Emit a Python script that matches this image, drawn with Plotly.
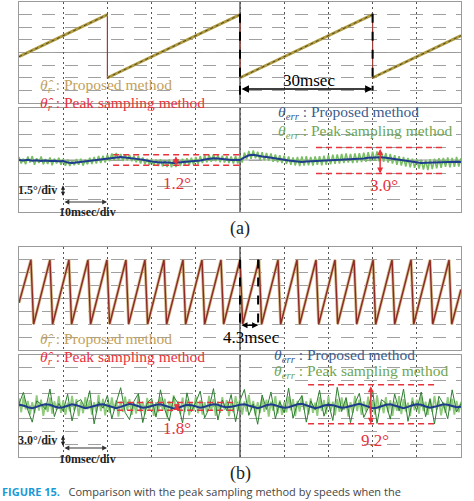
import plotly.graph_objects as go

W, H = 474, 501
SERIF = "Liberation Serif, Times New Roman, serif"

# ---------------- data ----------------
# (a) rotor angle sawtooth, vertices (ms, deg)
saw_a_t = [0, 20, 20, 50, 50, 80, 80, 100]
saw_a_deg = [120, 360, 0, 360, 0, 360, 0, 240]

# (b) rotor angle sawtooth, vertices (ms, deg), period 4.3 ms
saw_b_t = [0, 2.7, 3.3, 7.0, 7.6, 11.3, 11.9, 15.6, 16.2, 19.9, 20.5, 24.2, 24.8,
           28.5, 29.1, 32.8, 33.4, 37.1, 37.7, 41.4, 42.0, 45.7, 46.3, 50.0, 50.6,
           54.3, 54.9, 58.6, 59.2, 62.9, 63.5, 67.2, 67.8, 71.5, 72.1, 75.8, 76.4,
           80.1, 80.7, 84.4, 85.0, 88.7, 89.3, 93.0, 93.6, 97.3, 97.9, 100]
saw_b_deg = [120, 360, 0, 360, 0, 360, 0, 360, 0, 360, 0, 360, 0,
             360, 0, 360, 0, 360, 0, 360, 0, 360, 0, 360, 0,
             360, 0, 360, 0, 360, 0, 360, 0, 360, 0, 360, 0,
             360, 0, 360, 0, 360, 0, 360, 0, 360, 0, 195]

t_1ms = list(range(0, 101))
t_half = [i * 0.5 for i in range(201)]

# (a) position error, proposed (blue), deg
err_a_blue = [0.00, -0.05, 0.02, -0.08, -0.03, -0.10, -0.06, -0.12, -0.08, -0.15, -0.12,
              -0.30, -0.35, -0.28, -0.22, -0.18, -0.12, -0.05, 0.00, 0.06, 0.12,
              0.22, 0.30, 0.35, 0.28, 0.24, 0.20, 0.10, 0.02, -0.10, -0.18,
              -0.22, -0.28, -0.25, -0.32, -0.35, -0.30, -0.26, -0.20, -0.14, -0.08,
              -0.05, 0.05, 0.12, 0.20, 0.16, 0.10, 0.05, 0.00, 0.04, 0.00,
              0.30, 0.55, 0.60, 0.48, 0.40, 0.34, 0.28, 0.20, 0.12, 0.04,
              -0.05, -0.12, -0.20, -0.22, -0.18, -0.15, -0.20, -0.14, -0.10, -0.10,
              -0.06, -0.02, 0.02, 0.06, 0.10, 0.08, 0.12, 0.18, 0.25, 0.30,
              0.35, 0.32, 0.25, 0.18, 0.10, 0.02, -0.08, -0.15, -0.20, -0.28,
              -0.35, -0.32, -0.30, -0.25, -0.22, -0.20, -0.18, -0.22, -0.20, -0.22]

# (a) position error, peak sampling (green), deg, every 0.5 ms
err_a_green = [0.35, -0.40, 0.15, -0.50, 0.40, -0.30, 0.45, -0.55, 0.20, -0.35, 0.40, -0.50, 0.10, -0.45, 0.30, -0.60, 0.15, -0.40, 0.25, -0.55,
               0.10, -0.65, 0.05, -0.70, -0.05, -0.60, 0.10, -0.55, 0.15, -0.65, 0.05, -0.50, 0.25, -0.45, 0.35, -0.40, 0.45, -0.35, 0.50, -0.30,
               0.60, -0.15, 0.75, -0.05, 0.80, 0.00, 0.70, -0.10, 0.65, -0.05, 0.60, -0.15, 0.50, -0.25, 0.45, -0.40, 0.30, -0.50, 0.15, -0.55,
               0.10, -0.65, 0.05, -0.70, 0.10, -0.75, 0.00, -0.80, 0.05, -0.85, 0.00, -0.80, 0.10, -0.70, 0.15, -0.65, 0.20, -0.60, 0.25, -0.55,
               0.35, -0.50, 0.45, -0.35, 0.55, -0.25, 0.60, -0.20, 0.65, -0.15, 0.55, -0.25, 0.50, -0.30, 0.45, -0.35, 0.40, -0.40, 0.45, -0.40,
               0.50, -0.30, 0.85, 0.10, 1.05, 0.15, 1.10, 0.20, 0.95, 0.00, 0.90, -0.05, 0.80, -0.10, 0.75, -0.20, 0.65, -0.25, 0.55, -0.35,
               0.50, -0.45, 0.40, -0.55, 0.30, -0.65, 0.35, -0.70, 0.40, -0.65, 0.45, -0.60, 0.35, -0.65, 0.40, -0.55, 0.45, -0.60, 0.50, -0.55,
               0.55, -0.50, 0.60, -0.45, 0.65, -0.40, 0.70, -0.35, 0.75, -0.30, 0.70, -0.35, 0.75, -0.30, 0.80, -0.25, 0.85, -0.20, 0.90, -0.15,
               0.95, -0.10, 1.00, -0.15, 0.90, -0.20, 0.80, -0.30, 0.70, -0.40, 0.55, -0.55, 0.45, -0.65, 0.35, -0.75, 0.25, -0.85, 0.15, -0.90,
               0.10, -1.00, 0.05, -1.10, 0.00, -1.15, 0.10, -1.05, 0.15, -0.95, 0.20, -0.90, 0.25, -0.80, 0.30, -0.85, 0.25, -0.80, 0.35, -0.75,
               0.20]

# (b) position error, proposed (blue), deg
err_b_blue = [0.3, 0.1, -0.3, -0.5, -0.2, 0.2, 0.4, 0.3, -0.1, -0.4,
              -0.3, 0.1, 0.4, 0.2, -0.2, -0.5, -0.3, 0.0, 0.3, 0.4,
              0.1, -0.3, -0.5, -0.2, 0.2, 0.5, 0.3, -0.1, -0.4, -0.3,
              0.0, 0.3, 0.4, 0.1, -0.3, -0.6, -0.4, 0.0, 0.3, 0.2,
              -0.1, -0.4, -0.2, 0.2, 0.4, 0.3, -0.1, -0.3, -0.2, 0.1,
              0.3, 0.4, 0.1, -0.3, -0.5, -0.2, 0.2, 0.4, 0.2, -0.2,
              -0.4, -0.3, 0.1, 0.4, 0.5, 0.2, -0.2, -0.5, -0.3, 0.1,
              0.3, 0.2, -0.1, -0.4, -0.3, 0.0, 0.3, 0.5, 0.2, -0.2,
              -0.5, -0.4, 0.0, 0.3, 0.4, 0.1, -0.3, -0.5, -0.2, 0.2,
              0.4, 0.3, -0.1, -0.4, -0.2, 0.1, 0.4, 0.3, 0.0, -0.3,
              -0.2]

# (b) position error, peak sampling (green band), deg, every 0.5 ms
err_b_green = [1.8, -1.5, 2.2, -0.8, 1.2, -2.0, 0.9, -1.6, 2.5, -1.1, 1.5, -2.3, 0.7, -1.4, 2.0, -1.8, 1.1, -0.9, 2.3, -1.6,
               1.3, -2.1, 0.8, -1.3, 2.4, -1.0, 1.6, -2.4, 1.0, -1.7, 2.1, -0.8, 1.4, -2.0, 0.9, -1.5, 2.6, -1.2, 1.7, -2.2,
               0.8, -1.6, 2.0, -1.0, 1.3, -2.5, 1.1, -1.4, 2.2, -0.9, 1.6, -2.1, 0.7, -1.8, 2.4, -1.3, 1.0, -2.0, 1.9, -1.1,
               1.4, -2.3, 0.9, -1.5, 2.1, -1.0, 1.7, -2.6, 1.2, -1.3, 2.5, -0.8, 1.0, -1.9, 2.0, -1.4, 1.5, -2.2, 0.8, -1.2,
               2.2, -1.7, 1.3, -2.0, 0.9, -1.4, 2.4, -1.1, 1.6, -2.3, 1.0, -1.6, 2.1, -0.9, 1.4, -2.4, 0.8, -1.5, 2.3, -1.2,
               1.7, -2.0, 1.1, -1.3, 2.6, -1.0, 1.2, -2.2, 0.9, -1.7, 2.0, -1.4, 1.5, -2.5, 1.0, -1.1, 2.3, -1.8, 1.3, -2.1,
               0.9, -1.5, 2.2, -1.0, 1.6, -2.4, 1.2, -1.3, 2.5, -0.9, 1.1, -2.0, 1.8, -1.6, 0.8, -2.3, 2.1, -1.2, 1.4, -1.9,
               2.3, -1.1, 1.0, -2.2, 1.7, -1.4, 2.0, -0.9, 1.3, -2.5, 0.9, -1.6, 2.4, -1.2, 1.5, -2.1, 1.1, -1.3, 2.2, -1.8,
               1.2, -2.0, 2.5, -1.0, 0.9, -1.7, 2.1, -1.5, 1.4, -2.3, 1.0, -1.1, 2.3, -1.9, 1.6, -1.3, 0.8, -2.4, 2.0, -1.0,
               1.5, -1.8, 2.2, -1.2, 1.0, -2.1, 1.8, -1.4, 2.4, -0.9, 1.3, -2.2, 0.9, -1.6, 2.1, -1.1, 1.7, -2.0, 1.2, -1.5,
               1.0]

# (b) peak sampling spikes (dark green), deg, every 1 ms
err_b_spike = [0.5, 3.2, -1.0, -3.8, 1.2, 0.4, -0.8, 4.0, -2.5, 0.6,
               -1.2, 2.8, -3.5, 0.9, 1.5, -0.7, 3.6, -4.2, 1.0, -0.5,
               2.5, -3.0, 0.8, 4.3, -1.5, -3.2, 1.1, 2.9, -3.9, 0.7,
               1.8, -2.6, 3.8, -0.9, -3.5, 2.2, 0.6, -4.0, 3.1, -1.3,
               0.9, 3.5, -2.8, -0.6, 4.1, -3.3, 1.4, -1.1, 2.7, -3.7,
               1.3, 3.9, -2.2, 0.5, -4.3, 2.6, -0.8, 3.3, -3.0, 1.0,
               -1.6, 4.2, -2.9, 0.7, 2.4, -3.8, 1.2, -0.9, 3.7, -2.4,
               0.8, -3.4, 4.4, -1.3, 2.0, -3.9, 0.6, 3.0, -2.7, -0.5,
               3.6, -4.1, 1.5, 0.7, -3.1, 2.8, -1.2, 4.0, -3.6, 1.1,
               -0.9, 3.3, -2.5, 1.6, -4.2, 2.3, 0.5, -3.0, 3.8, -1.4,
               0.6]

# peak-to-peak markers (ms start, ms end, upper deg, lower deg, arrow ms, label)
pp_a = [(21.3, 50.0, 0.6, -0.6, 35.5, "1.2°"), (67.2, 96.6, 1.45, -1.55, 81.7, "3.0°")]
pp_b = [(22.2, 49.5, 0.8, -1.0, 35.7, "1.8°"), (65.4, 94.6, 5.0, -4.2, 79.6, "9.2°")]

# ---------------- helpers ----------------
def px(x):
    return x / W


def py(y):
    return 1 - y / H


def split_drops(ts, vs):
    xo, yo = [ts[0]], [vs[0]]
    for i in range(1, len(ts)):
        if ts[i] == ts[i - 1]:
            xo.append(None)
            yo.append(None)
        xo.append(ts[i])
        yo.append(vs[i])
    return xo, yo


fig = go.Figure()

# panel (a) top
fig.add_trace(go.Scatter(x=saw_a_t, y=saw_a_deg, mode="lines", xaxis="x", yaxis="y",
                         line=dict(color="#9E3B35", width=1.2)))
sx, sy = split_drops(saw_a_t, saw_a_deg)
fig.add_trace(go.Scatter(x=sx, y=sy, mode="lines", xaxis="x", yaxis="y",
                         line=dict(color="#B09C40", width=3), connectgaps=False))
fig.add_trace(go.Scatter(x=sx, y=sy, mode="lines", xaxis="x", yaxis="y",
                         line=dict(color="#4E4420", width=1, dash="dot"), connectgaps=False))

# panel (a) bottom
fig.add_trace(go.Scatter(x=t_half, y=err_a_green, mode="lines", xaxis="x2", yaxis="y2",
                         line=dict(color="#79BF64", width=1.6)))
fig.add_trace(go.Scatter(x=t_1ms, y=err_a_blue, mode="lines", xaxis="x2", yaxis="y2",
                         line=dict(color="#1F3C8C", width=2)))

# panel (b) top
fig.add_trace(go.Scatter(x=saw_b_t, y=saw_b_deg, mode="lines", xaxis="x3", yaxis="y3",
                         line=dict(color="#D2B98A", width=3)))
fig.add_trace(go.Scatter(x=saw_b_t, y=saw_b_deg, mode="lines", xaxis="x3", yaxis="y3",
                         line=dict(color="#8C2A25", width=1.4)))

# panel (b) bottom
fig.add_trace(go.Scatter(x=t_half, y=err_b_green, mode="lines", xaxis="x4", yaxis="y4",
                         line=dict(color="#8ECB7C", width=1.8)))
fig.add_trace(go.Scatter(x=t_1ms, y=err_b_spike, mode="lines", xaxis="x4", yaxis="y4",
                         line=dict(color="#2F7D32", width=1)))
fig.add_trace(go.Scatter(x=t_1ms, y=err_b_blue, mode="lines", xaxis="x4", yaxis="y4",
                         line=dict(color="#1F3C8C", width=2)))

# ---------------- axes ----------------
boxes = {  # pixel top, bottom, range, division
    "1": (2, 103, [-144, 432], 72),
    "2": (108, 212, [-6, 6], 1.5),
    "3": (247, 350, [-144, 432], 72),
    "4": (355, 457, [-12, 12], 3),
}
layout_axes = {}
for k, (top, bot, yr, dt) in boxes.items():
    xn = "xaxis" if k == "1" else "xaxis" + k
    yn = "yaxis" if k == "1" else "yaxis" + k
    anchor_y = "y" if k == "1" else "y" + k
    anchor_x = "x" if k == "1" else "x" + k
    layout_axes[xn] = dict(domain=[px(19), px(461)], range=[0, 100], anchor=anchor_y,
                           showticklabels=False, ticks="", dtick=10, tick0=0,
                           showgrid=True, gridcolor="#555", griddash="2px,3px", gridwidth=1,
                           zeroline=False, showline=True, mirror=True, linecolor="#9a9a9a",
                           linewidth=1.2)
    layout_axes[yn] = dict(domain=[py(bot), py(top)], range=yr, anchor=anchor_x,
                           showticklabels=False, ticks="", dtick=dt, tick0=yr[0],
                           showgrid=True, gridcolor="#a0a0a0", griddash="13px,10px", gridwidth=1,
                           zeroline=False, showline=True, mirror=True, linecolor="#9a9a9a",
                           linewidth=1.2)

shapes = []
# center lines
for k, (top, bot, yr, dt) in boxes.items():
    xr = "x" if k == "1" else "x" + k
    yr_ = "y" if k == "1" else "y" + k
    shapes.append(dict(type="line", xref=xr, yref=yr_ + " domain", x0=50, x1=50, y0=0, y1=1,
                       line=dict(color="#333", width=1.2), layer="below"))
    shapes.append(dict(type="line", xref=xr + " domain", yref=yr_, x0=0, x1=1,
                       y0=(yr[0] + yr[1]) / 2, y1=(yr[0] + yr[1]) / 2,
                       line=dict(color="#9a9a9a", width=1), layer="below"))

# black dashed time markers
shapes += [
    dict(type="line", xref="x", yref="y", x0=50, x1=50, y0=365, y1=-144, line=dict(color="black", width=2, dash="dash")),
    dict(type="line", xref="x", yref="y", x0=80, x1=80, y0=365, y1=-72, line=dict(color="black", width=2, dash="dash")),
    dict(type="line", xref="x3", yref="y3", x0=50, x1=50, y0=362, y1=-5, line=dict(color="black", width=2, dash="dash")),
    dict(type="line", xref="x3", yref="y3", x0=54.1, x1=54.1, y0=362, y1=-5, line=dict(color="black", width=2, dash="dash")),
]

annotations = []
RED = "#E8323C"
for (xr, yr_, pp) in (("x2", "y2", pp_a), ("x4", "y4", pp_b)):
    for (x0, x1, up, lo, xa, lab) in pp:
        for yv in (up, lo):
            shapes.append(dict(type="line", xref=xr, yref=yr_, x0=x0, x1=x1, y0=yv, y1=yv,
                               line=dict(color=RED, width=1.5, dash="6px,4px")))
        annotations.append(dict(xref=xr, yref=yr_, axref=xr, ayref=yr_, x=xa, y=lo, ax=xa, ay=up,
                                text="", showarrow=True, arrowhead=2, arrowside="end+start",
                                arrowsize=0.8, arrowwidth=1.5, arrowcolor=RED))

# time arrows
annotations.append(dict(xref="x", yref="y", axref="x", ayref="y", x=80, y=-64, ax=50, ay=-64,
                        text="", showarrow=True, arrowhead=2, arrowside="end+start",
                        arrowsize=1, arrowwidth=1.5, arrowcolor="black"))
annotations.append(dict(xref="x3", yref="y3", axref="x3", ayref="y3", x=54.1, y=-5, ax=50, ay=-5,
                        text="", showarrow=True, arrowhead=2, arrowside="end+start",
                        arrowsize=0.8, arrowwidth=1.5, arrowcolor="black"))
# scale arrows (time and volts/div)
for yy in (202, 448):
    annotations.append(dict(xref="paper", yref="paper", x=px(107), y=py(yy), ax=-44, ay=0,
                            text="", showarrow=True, arrowhead=2, arrowside="end+start",
                            arrowsize=0.8, arrowwidth=1.2, arrowcolor="#333"))
for yy in (190, 440):
    annotations.append(dict(xref="paper", yref="paper", x=px(63), y=py(yy + 6), ax=0, ay=-12,
                            text="", showarrow=True, arrowhead=2, arrowside="end+start",
                            arrowsize=0.7, arrowwidth=1.2, arrowcolor="#222"))


def txt(text, x, y, size, color, xanchor="left", family=SERIF):
    annotations.append(dict(xref="paper", yref="paper", x=px(x), y=py(y), text=text,
                            showarrow=False, xanchor=xanchor, yanchor="middle",
                            font=dict(family=family, size=size, color=color)))


TAN = "#C2A15C"
BLUE = "#3A5C8E"
GREEN = "#6FA654"
TH_HAT = "<i>\u03b8\u0302</i><sub><i>r</i></sub>"
TH_ERR = "<i>\u03b8</i><sub><i>err</i></sub>"

# panel (a) texts
txt(TH_HAT + " : Proposed method", 38, 86, 15.5, TAN)
txt(TH_HAT + " : Peak sampling method", 38, 104, 15.5, RED)
txt(TH_ERR + " : Proposed method", 276, 113, 15.5, BLUE)
txt(TH_ERR + " : Peak sampling method", 276, 131, 15.5, GREEN)
txt("30msec", 309, 80, 17, "black", "center")
txt("1.2°", 177, 183, 17, RED, "center")
txt("3.0°", 384, 185, 17, RED, "center")
txt("<b>1.5°/div</b>", 16, 190, 12, "#222")
txt("<b>10msec/div</b>", 57, 212, 12, "#222")
txt("(a)", 240, 228, 18, "#222", "center")

# panel (b) texts
txt(TH_HAT + " : Proposed method", 38, 339, 15.5, TAN)
txt(TH_HAT + " : Peak sampling method", 38, 357, 15.5, RED)
txt(TH_ERR + " : Proposed method", 272, 355, 15.5, BLUE)
txt(TH_ERR + " : Peak sampling method", 272, 371, 15.5, GREEN)
txt("4.3msec", 252, 337, 17, "black", "center")
txt("1.8°", 177, 428, 17, RED, "center")
txt("9.2°", 375, 440, 17, RED, "center")
txt("<b>3.0°/div</b>", 16, 440, 12, "#222")
txt("<b>10msec/div</b>", 57, 459, 12, "#222")
txt("(b)", 240, 473, 18, "#222", "center")

# caption
annotations.append(dict(xref="paper", yref="paper", x=0, y=0, xanchor="left", yanchor="bottom",
                        showarrow=False,
                        text="<b><span style='color:#1A9AD6'>FIGURE 15.</span></b>   Comparison with the peak sampling method by speeds when the",
                        font=dict(family="Open Sans", size=11, color="#444")))

fig.update_layout(width=W, height=H, margin=dict(l=0, r=0, t=0, b=0),
                  paper_bgcolor="white", plot_bgcolor="white", showlegend=False,
                  shapes=shapes, annotations=annotations, **layout_axes)

fig.write_html("out.html")
